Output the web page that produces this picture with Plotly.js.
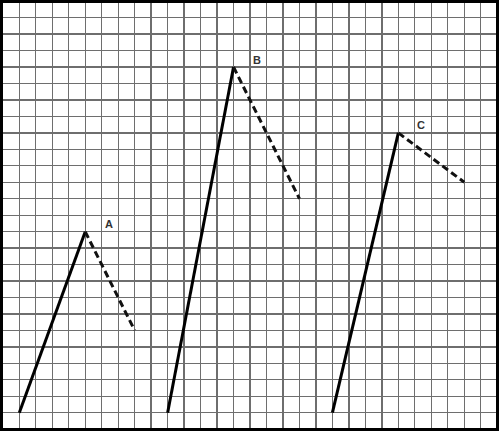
<!DOCTYPE html>
<html>
<head>
<meta charset="utf-8">
<script src="https://cdn.plot.ly/plotly-3.0.1.min.js"></script>
<style>html,body{margin:0;padding:0;background:#fff;}#chart{width:499px;height:431px;}</style>
</head>
<body>
<div id="chart"></div>
<script>
// Impulse legs (solid) and retracements (dashed), in grid units
var labels = ["A", "B", "C"];
var startX = [0, 9, 19];
var startY = [0, 0, 0];
var peakX = [4, 13, 23];
var peakY = [11, 21, 17];
var endX = [7, 17, 27];
var endY = [5, 13, 14];
var labelX = [5.45, 14.45, 24.4];
var labelY = [11.45, 21.4, 17.45];
var gridCols = 29; // vertical grid lines 0..28
var gridRows = 25; // horizontal grid lines 0..24

var traces = [];
for (var i = 0; i < labels.length; i++) {
  traces.push({
    x: [startX[i], peakX[i]], y: [startY[i], peakY[i]],
    mode: "lines", type: "scatter", hoverinfo: "skip",
    line: {color: "#000", width: 3}
  });
  traces.push({
    x: [peakX[i], endX[i]], y: [peakY[i], endY[i]],
    mode: "lines", type: "scatter", hoverinfo: "skip",
    line: {color: "#111", width: 3, dash: "7px,4px"}
  });
}

var annotations = labels.map(function (t, i) {
  return {x: labelX[i], y: labelY[i], text: t, showarrow: false,
    font: {family: "Liberation Sans, Arial, sans-serif", size: 11, color: "#333", weight: "bold"}};
});

function seq(n) { var a = []; for (var k = 0; k < n; k++) a.push(k); return a; }

function axis(range, n) {
  return {
    range: range, tickmode: "array", tickvals: seq(n),
    showgrid: true, gridcolor: "#6e6e6e", gridwidth: 1.3,
    zeroline: false, showticklabels: false, ticks: "", showline: false, fixedrange: true
  };
}

var layout = {
  width: 499, height: 431,
  margin: {l: 0, r: 0, t: 0, b: 0, pad: 0},
  paper_bgcolor: "#fff", plot_bgcolor: "#fff",
  showlegend: false,
  xaxis: axis([-1.171, 29.108], gridCols),
  yaxis: axis([-1.112, 25.073], gridRows),
  annotations: annotations,
  shapes: [{type: "rect", xref: "paper", yref: "paper", x0: 0, x1: 1, y0: 0, y1: 1,
    line: {color: "#000", width: 6}, layer: "above"}]
};

Plotly.newPlot("chart", traces, layout, {staticPlot: true, displayModeBar: false});
</script>
</body>
</html>
